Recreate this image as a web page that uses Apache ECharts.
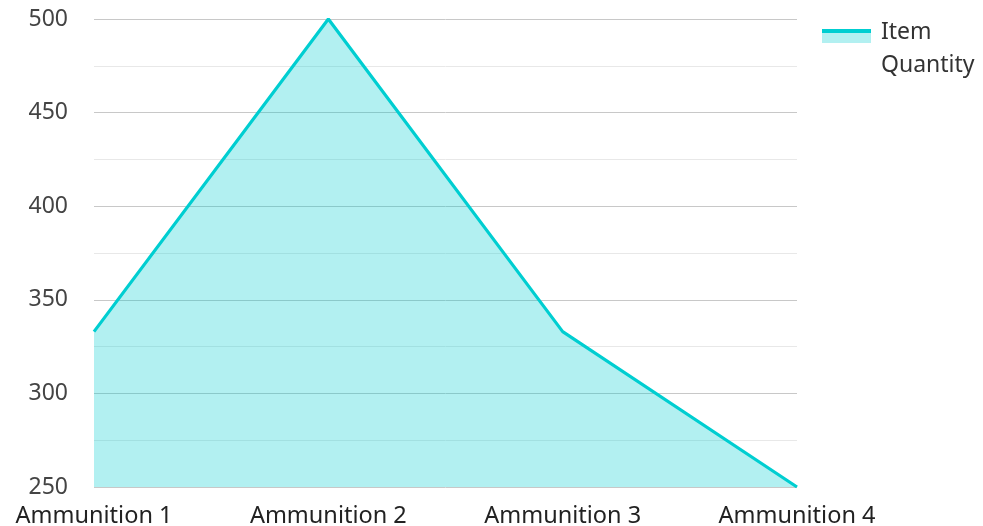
<!DOCTYPE html>
<html><head><meta charset="utf-8">
<script src="https://cdn.jsdelivr.net/npm/echarts@6/dist/echarts.min.js"></script>
<style>html,body{margin:0;padding:0;background:#fff;overflow:hidden}#c{width:983px;height:526px}</style>
</head><body><div id="c"></div>
<script>
const categories = ["Ammunition 1", "Ammunition 2", "Ammunition 3", "Ammunition 4"];
const seriesName = "Item Quantity";
const values = [333, 500, 333, 250];
const yMin = 250, yMax = 500, yStep = 50;

const chart = echarts.init(document.getElementById('c'));
chart.setOption({
  animation: false,
  textStyle: { fontFamily: 'Noto Sans' },
  grid: { left: 94, width: 703, top: 19, height: 468, containLabel: false, outerBoundsMode: 'none' },
  legend: {
    left: 817, top: -7, orient: 'vertical',
    itemWidth: 49, itemHeight: 14, itemGap: 10,
    data: [{ name: seriesName, icon: 'rect' }],
    itemStyle: {
      color: { type: 'linear', x: 0, y: 0, x2: 0, y2: 1, colorStops: [
        { offset: 0, color: '#00CED1' }, { offset: 0.3, color: '#00CED1' },
        { offset: 0.3, color: '#B2F0F1' }, { offset: 1, color: '#B2F0F1' }] }
    },
    lineStyle: { opacity: 0 },
    formatter: n => '{e| }\n' + n.split(' ').map(w => '{t|' + w + '}').join('\n'),
    textStyle: {
      fontSize: 23, color: '#333', fontFamily: 'Noto Sans',
      rich: {
        e: { fontSize: 10, lineHeight: 25 },
        t: { fontSize: 23, lineHeight: 33, color: '#333', fontFamily: 'Noto Sans', padding: [0, 0, 0, 5] }
      }
    }
  },
  xAxis: {
    type: 'category', data: categories, boundaryGap: false,
    axisLine: { show: false }, axisTick: { show: false },
    axisLabel: { fontSize: 23.5, color: '#222', margin: 17, fontFamily: 'Noto Sans' },
    splitLine: { show: false }
  },
  yAxis: {
    type: 'value', min: yMin, max: yMax, interval: yStep,
    axisLine: { show: false }, axisTick: { show: false },
    axisLabel: { fontSize: 23, color: '#444', margin: 26, fontFamily: 'Noto Sans' },
    splitLine: { show: true, lineStyle: { color: '#c8c8c8', width: 1 } },
    minorTick: { show: false, splitNumber: 2 },
    minorSplitLine: { show: true, lineStyle: { color: '#e8e8e8', width: 1 } }
  },
  series: [{
    name: seriesName, type: 'line', data: values,
    symbol: 'none', smooth: false,
    lineStyle: { color: '#00CED1', width: 3.2 },
    itemStyle: { color: '#00CED1' },
    areaStyle: { color: '#00CED1', opacity: 0.3 }
  }]
});
</script></body></html>
